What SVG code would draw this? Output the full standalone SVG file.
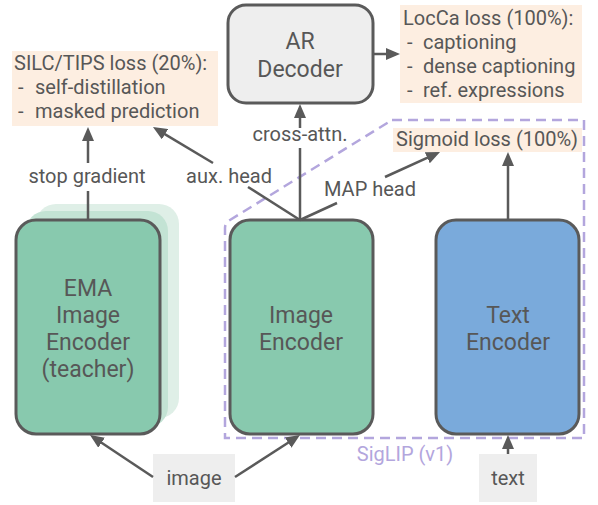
<svg xmlns="http://www.w3.org/2000/svg" width="598" height="505" viewBox="0 0 598 505">
<style>
text{font-family:Roboto,"Liberation Sans",sans-serif;fill:#575757}
.nt{font-size:23px;text-anchor:middle}
.lb{font-size:20px}
.lc{font-size:20px;text-anchor:middle}
.node{stroke:#5a5a5a;stroke-width:3}
.green{fill:#88c9ae}
.blue{fill:#7aaadb}
.gray{fill:#eeeeee}
.peach{fill:#fdeee1}
.conn line{stroke:#5a5a5a;stroke-width:2.5;fill:none}
.arr{marker-end:url(#ah)}
</style>
<defs>
<marker id="ah" markerUnits="userSpaceOnUse" markerWidth="14" markerHeight="12" refX="10" refY="6" orient="auto">
<path d="M0,0 L14,6 L0,12 z" fill="#5a5a5a"/>
</marker>
</defs>
<rect width="598" height="505" fill="#ffffff"/>

<g id="siglip-group">
<path d="M392,120 L584,120 L584,438 L225,438 L225,228 Q225,223 230,220 Z" fill="none" stroke="#b3a6dd" stroke-width="2.5" stroke-dasharray="10 6"/>
<text x="405" y="461" class="lc" style="fill:#b3a6dd">SigLIP (v1)</text>
</g>

<g id="silc-loss">
<rect x="12" y="51" width="206" height="75" class="peach"/>
<text x="14" y="70" class="lb">SILC/TIPS loss (20%):</text>
<text x="18" y="94" class="lb">-</text><text x="35" y="94" class="lb">self-distillation</text>
<text x="18" y="118" class="lb">-</text><text x="35" y="118" class="lb">masked prediction</text>
</g>

<g id="locca-loss">
<rect x="400" y="5" width="182" height="98" class="peach"/>
<text x="403" y="25" class="lb">LocCa loss (100%):</text>
<text x="407" y="49" class="lb">-</text><text x="423" y="49" class="lb">captioning</text>
<text x="407" y="73" class="lb">-</text><text x="423" y="73" class="lb">dense captioning</text>
<text x="407" y="97" class="lb">-</text><text x="423" y="97" class="lb">ref. expressions</text>
</g>

<g id="sigmoid-loss">
<rect x="393" y="128" width="189" height="24" class="peach"/>
<text x="396" y="146" class="lb">Sigmoid loss (100%)</text>
</g>

<g id="ar-decoder">
<rect x="228" y="5" width="145" height="98" rx="18" class="node gray"/>
<text x="300" y="49" class="nt">AR</text>
<text x="300" y="77" class="nt">Decoder</text>
</g>

<g id="ema-encoder">
<rect x="36" y="204" width="143" height="214" rx="20" fill="#dfefe7"/>
<rect x="26" y="211" width="142" height="216" rx="20" fill="#c3e3d4"/>
<rect x="16" y="220" width="144" height="214" rx="20" class="node green"/>
<text x="88" y="296" class="nt">EMA</text>
<text x="88" y="323" class="nt">Image</text>
<text x="88" y="350" class="nt">Encoder</text>
<text x="88" y="377" class="nt">(teacher)</text>
</g>

<g id="image-encoder">
<rect x="230" y="220" width="143" height="214" rx="20" class="node green"/>
<text x="301" y="323" class="nt">Image</text>
<text x="301" y="350" class="nt">Encoder</text>
</g>

<g id="text-encoder">
<rect x="436" y="220" width="143" height="214" rx="20" class="node blue"/>
<text x="508" y="323" class="nt">Text</text>
<text x="508" y="350" class="nt">Encoder</text>
</g>

<g id="image-input">
<rect x="153" y="454" width="82" height="48" class="gray"/>
<text x="194" y="485" class="lc">image</text>
</g>

<g id="text-input">
<rect x="479" y="454" width="58" height="48" class="gray"/>
<text x="508" y="485" class="lc">text</text>
</g>

<g id="connectors" class="conn">
<line x1="88" y1="220" x2="88" y2="191"/>
<line x1="88" y1="163" x2="88" y2="131" class="arr"/>
<text x="87" y="183" class="lc">stop gradient</text>

<line x1="300" y1="220" x2="248" y2="187"/>
<line x1="213" y1="163" x2="156.4" y2="129.1" class="arr"/>
<text x="229" y="183" class="lc">aux. head</text>

<line x1="300" y1="220" x2="300" y2="148"/>
<line x1="300" y1="128" x2="300" y2="108" class="arr"/>
<text x="300" y="141" class="lc">cross-attn.</text>

<line x1="300" y1="220" x2="337" y2="203"/>
<line x1="385" y1="177" x2="436.4" y2="153.7" class="arr"/>
<text x="370" y="196" class="lc">MAP head</text>

<line x1="508" y1="220" x2="508" y2="156" class="arr"/>
<line x1="373" y1="54" x2="396" y2="54" class="arr"/>

<line x1="153" y1="477" x2="93.3" y2="437.2" class="arr"/>
<line x1="235" y1="477" x2="296.6" y2="437.2" class="arr"/>
<line x1="508" y1="454" x2="508" y2="439" class="arr"/>
</g>
</svg>
